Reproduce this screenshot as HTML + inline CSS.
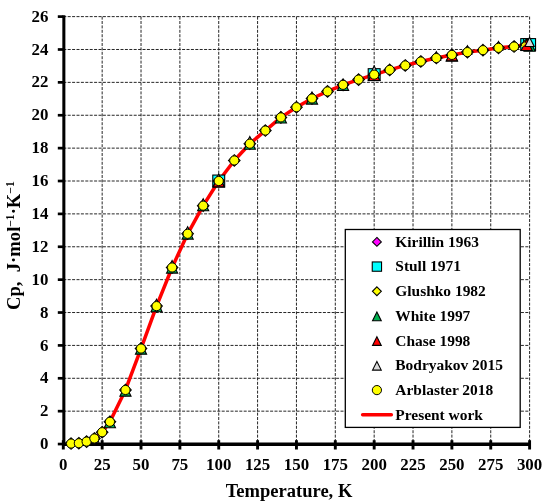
<!DOCTYPE html>
<html><head><meta charset="utf-8"><title>Cp chart</title>
<style>html,body{margin:0;padding:0;background:#fff}svg{display:block}text{font-family:"Liberation Serif","Times New Roman",serif;font-weight:bold;fill:#000}</style></head><body>
<svg width="550" height="504" viewBox="0 0 550 504">
<rect width="550" height="504" fill="#fff"/>
<g stroke="#262626" stroke-width="1" stroke-dasharray="3 1.4" fill="none">
<line x1="63.30" y1="411.17" x2="529.60" y2="411.17"/>
<line x1="63.30" y1="378.29" x2="529.60" y2="378.29"/>
<line x1="63.30" y1="345.41" x2="529.60" y2="345.41"/>
<line x1="63.30" y1="312.53" x2="529.60" y2="312.53"/>
<line x1="63.30" y1="279.65" x2="529.60" y2="279.65"/>
<line x1="63.30" y1="246.77" x2="529.60" y2="246.77"/>
<line x1="63.30" y1="213.89" x2="529.60" y2="213.89"/>
<line x1="63.30" y1="181.01" x2="529.60" y2="181.01"/>
<line x1="63.30" y1="148.13" x2="529.60" y2="148.13"/>
<line x1="63.30" y1="115.25" x2="529.60" y2="115.25"/>
<line x1="63.30" y1="82.37" x2="529.60" y2="82.37"/>
<line x1="63.30" y1="49.49" x2="529.60" y2="49.49"/>
<line x1="63.30" y1="16.61" x2="529.60" y2="16.61"/>
<line x1="102.16" y1="16.61" x2="102.16" y2="444.05"/>
<line x1="141.02" y1="16.61" x2="141.02" y2="444.05"/>
<line x1="179.88" y1="16.61" x2="179.88" y2="444.05"/>
<line x1="218.73" y1="16.61" x2="218.73" y2="444.05"/>
<line x1="257.59" y1="16.61" x2="257.59" y2="444.05"/>
<line x1="296.45" y1="16.61" x2="296.45" y2="444.05"/>
<line x1="335.31" y1="16.61" x2="335.31" y2="444.05"/>
<line x1="374.17" y1="16.61" x2="374.17" y2="444.05"/>
<line x1="413.03" y1="16.61" x2="413.03" y2="444.05"/>
<line x1="451.88" y1="16.61" x2="451.88" y2="444.05"/>
<line x1="490.74" y1="16.61" x2="490.74" y2="444.05"/>
<line x1="529.60" y1="16.61" x2="529.60" y2="444.05"/>
</g>
<g stroke="#000" stroke-width="2.7" fill="none">
<line x1="63.85" y1="15.31" x2="63.85" y2="445.65" stroke-width="3.05"/>
<line x1="62.30" y1="444.25" x2="531.00" y2="444.25" stroke-width="3.3"/>
<line x1="57.80" y1="444.05" x2="63.30" y2="444.05"/>
<line x1="57.80" y1="411.17" x2="63.30" y2="411.17"/>
<line x1="57.80" y1="378.29" x2="63.30" y2="378.29"/>
<line x1="57.80" y1="345.41" x2="63.30" y2="345.41"/>
<line x1="57.80" y1="312.53" x2="63.30" y2="312.53"/>
<line x1="57.80" y1="279.65" x2="63.30" y2="279.65"/>
<line x1="57.80" y1="246.77" x2="63.30" y2="246.77"/>
<line x1="57.80" y1="213.89" x2="63.30" y2="213.89"/>
<line x1="57.80" y1="181.01" x2="63.30" y2="181.01"/>
<line x1="57.80" y1="148.13" x2="63.30" y2="148.13"/>
<line x1="57.80" y1="115.25" x2="63.30" y2="115.25"/>
<line x1="57.80" y1="82.37" x2="63.30" y2="82.37"/>
<line x1="57.80" y1="49.49" x2="63.30" y2="49.49"/>
<line x1="57.80" y1="16.61" x2="63.30" y2="16.61"/>
<line x1="63.30" y1="440.2" x2="63.30" y2="449.5" stroke-width="2.9"/>
<line x1="102.16" y1="440.2" x2="102.16" y2="449.5" stroke-width="2.9"/>
<line x1="141.02" y1="440.2" x2="141.02" y2="449.5" stroke-width="2.9"/>
<line x1="179.88" y1="440.2" x2="179.88" y2="449.5" stroke-width="2.9"/>
<line x1="218.73" y1="440.2" x2="218.73" y2="449.5" stroke-width="2.9"/>
<line x1="257.59" y1="440.2" x2="257.59" y2="449.5" stroke-width="2.9"/>
<line x1="296.45" y1="440.2" x2="296.45" y2="449.5" stroke-width="2.9"/>
<line x1="335.31" y1="440.2" x2="335.31" y2="449.5" stroke-width="2.9"/>
<line x1="374.17" y1="440.2" x2="374.17" y2="449.5" stroke-width="2.9"/>
<line x1="413.03" y1="440.2" x2="413.03" y2="449.5" stroke-width="2.9"/>
<line x1="451.88" y1="440.2" x2="451.88" y2="449.5" stroke-width="2.9"/>
<line x1="490.74" y1="440.2" x2="490.74" y2="449.5" stroke-width="2.9"/>
<line x1="529.60" y1="440.2" x2="529.60" y2="449.5" stroke-width="2.9"/>
</g>
<g font-size="16.9px">
<text x="48.4" y="449.15" text-anchor="end">0</text>
<text x="48.4" y="416.27" text-anchor="end">2</text>
<text x="48.4" y="383.39" text-anchor="end">4</text>
<text x="48.4" y="350.51" text-anchor="end">6</text>
<text x="48.4" y="317.63" text-anchor="end">8</text>
<text x="48.4" y="284.75" text-anchor="end">10</text>
<text x="48.4" y="251.87" text-anchor="end">12</text>
<text x="48.4" y="218.99" text-anchor="end">14</text>
<text x="48.4" y="186.11" text-anchor="end">16</text>
<text x="48.4" y="153.23" text-anchor="end">18</text>
<text x="48.4" y="120.35" text-anchor="end">20</text>
<text x="48.4" y="87.47" text-anchor="end">22</text>
<text x="48.4" y="54.59" text-anchor="end">24</text>
<text x="48.4" y="21.71" text-anchor="end">26</text>
<text x="63.30" y="469.7" text-anchor="middle">0</text>
<text x="102.16" y="469.7" text-anchor="middle">25</text>
<text x="141.02" y="469.7" text-anchor="middle">50</text>
<text x="179.88" y="469.7" text-anchor="middle">75</text>
<text x="218.73" y="469.7" text-anchor="middle">100</text>
<text x="257.59" y="469.7" text-anchor="middle">125</text>
<text x="296.45" y="469.7" text-anchor="middle">150</text>
<text x="335.31" y="469.7" text-anchor="middle">175</text>
<text x="374.17" y="469.7" text-anchor="middle">200</text>
<text x="413.03" y="469.7" text-anchor="middle">225</text>
<text x="451.88" y="469.7" text-anchor="middle">250</text>
<text x="490.74" y="469.7" text-anchor="middle">275</text>
<text x="529.60" y="469.7" text-anchor="middle">300</text>
</g>
<text x="289" y="496.8" text-anchor="middle" font-size="18.55px">Temperature, K</text>
<text transform="translate(20.1,245.7) rotate(-90)" text-anchor="middle" font-size="18.65px" xml:space="preserve">Cp,  J·mol<tspan font-size="11.5px" dy="-6.5">−1</tspan><tspan dy="6.5">·K</tspan><tspan font-size="11.5px" dy="-6.5">−1</tspan></text>
<polyline points="71.07,443.56 78.84,443.23 86.61,441.58 94.39,438.46 102.16,432.21 109.93,421.77 125.47,389.96 141.02,348.53 156.56,306.12 172.10,267.48 187.65,233.78 203.19,205.67 218.73,181.01 234.28,160.46 249.82,143.69 265.36,130.54 280.91,117.39 296.45,107.19 311.99,98.48 327.54,91.41 343.08,84.84 358.62,79.58 374.17,74.64 389.71,69.88 405.25,65.44 420.80,61.49 436.34,58.04 451.88,54.92 467.43,52.12 482.97,50.15 498.51,47.85 514.06,46.53 526.72,44.56 529.60,44.56" fill="none" stroke="#ff0000" stroke-width="3.5" stroke-linejoin="round" stroke-linecap="round"/>
<g stroke="#000" stroke-width="1.1" stroke-linejoin="miter">
<path d="M526.72 38.79L532.50 44.56L526.72 50.33L520.95 44.56Z" fill="#ff00ff"/>
<rect x="212.78" y="175.06" width="11.90" height="11.90" fill="#00ffff"/>
<rect x="368.22" y="68.69" width="11.90" height="11.90" fill="#00ffff"/>
<rect x="520.77" y="38.61" width="11.90" height="11.90" fill="#00ffff"/>
<rect x="523.65" y="38.61" width="11.90" height="11.90" fill="#00ffff"/>
<path d="M71.07 437.78L76.84 443.56L71.07 449.33L65.30 443.56Z" fill="#ffff00"/>
<path d="M78.84 437.46L84.62 443.23L78.84 449.00L73.07 443.23Z" fill="#ffff00"/>
<path d="M86.61 435.81L92.39 441.58L86.61 447.36L80.84 441.58Z" fill="#ffff00"/>
<path d="M94.39 432.69L100.16 438.46L94.39 444.23L88.61 438.46Z" fill="#ffff00"/>
<path d="M102.16 426.44L107.93 432.21L102.16 437.99L96.39 432.21Z" fill="#ffff00"/>
<path d="M109.93 416.00L115.70 421.77L109.93 427.55L104.16 421.77Z" fill="#ffff00"/>
<path d="M125.47 384.19L131.25 389.96L125.47 395.73L119.70 389.96Z" fill="#ffff00"/>
<path d="M141.02 342.76L146.79 348.53L141.02 354.31L135.24 348.53Z" fill="#ffff00"/>
<path d="M156.56 300.35L162.33 306.12L156.56 311.89L150.79 306.12Z" fill="#ffff00"/>
<path d="M172.10 261.71L177.88 267.48L172.10 273.26L166.33 267.48Z" fill="#ffff00"/>
<path d="M187.65 228.01L193.42 233.78L187.65 239.55L181.87 233.78Z" fill="#ffff00"/>
<path d="M203.19 199.90L208.96 205.67L203.19 211.44L197.42 205.67Z" fill="#ffff00"/>
<path d="M218.73 175.24L224.51 181.01L218.73 186.78L212.96 181.01Z" fill="#ffff00"/>
<path d="M234.28 154.69L240.05 160.46L234.28 166.23L228.50 160.46Z" fill="#ffff00"/>
<path d="M249.82 137.92L255.59 143.69L249.82 149.46L244.05 143.69Z" fill="#ffff00"/>
<path d="M265.36 124.77L271.14 130.54L265.36 136.31L259.59 130.54Z" fill="#ffff00"/>
<path d="M280.91 111.61L286.68 117.39L280.91 123.16L275.13 117.39Z" fill="#ffff00"/>
<path d="M296.45 101.42L302.22 107.19L296.45 112.97L290.68 107.19Z" fill="#ffff00"/>
<path d="M311.99 92.71L317.77 98.48L311.99 104.25L306.22 98.48Z" fill="#ffff00"/>
<path d="M327.54 85.64L333.31 91.41L327.54 97.18L321.76 91.41Z" fill="#ffff00"/>
<path d="M343.08 79.06L348.85 84.84L343.08 90.61L337.31 84.84Z" fill="#ffff00"/>
<path d="M358.62 73.80L364.40 79.58L358.62 85.35L352.85 79.58Z" fill="#ffff00"/>
<path d="M374.17 68.87L379.94 74.64L374.17 80.42L368.39 74.64Z" fill="#ffff00"/>
<path d="M389.71 64.10L395.48 69.88L389.71 75.65L383.94 69.88Z" fill="#ffff00"/>
<path d="M405.25 59.66L411.03 65.44L405.25 71.21L399.48 65.44Z" fill="#ffff00"/>
<path d="M420.80 55.72L426.57 61.49L420.80 67.26L415.02 61.49Z" fill="#ffff00"/>
<path d="M436.34 52.27L442.11 58.04L436.34 63.81L430.57 58.04Z" fill="#ffff00"/>
<path d="M451.88 49.14L457.66 54.92L451.88 60.69L446.11 54.92Z" fill="#ffff00"/>
<path d="M467.43 46.35L473.20 52.12L467.43 57.89L461.65 52.12Z" fill="#ffff00"/>
<path d="M482.97 44.38L488.74 50.15L482.97 55.92L477.20 50.15Z" fill="#ffff00"/>
<path d="M498.51 42.07L504.29 47.85L498.51 53.62L492.74 47.85Z" fill="#ffff00"/>
<path d="M514.06 40.76L519.83 46.53L514.06 52.30L508.28 46.53Z" fill="#ffff00"/>
<path d="M526.72 38.79L532.50 44.56L526.72 50.33L520.95 44.56Z" fill="#ffff00"/>
<path d="M109.93 416.65L115.49 427.77L104.37 427.77Z" fill="#00b050"/>
<path d="M125.47 385.04L131.03 396.16L119.91 396.16Z" fill="#00b050"/>
<path d="M141.02 343.01L146.58 354.13L135.46 354.13Z" fill="#00b050"/>
<path d="M156.56 300.60L162.12 311.72L151.00 311.72Z" fill="#00b050"/>
<path d="M172.10 261.96L177.66 273.08L166.54 273.08Z" fill="#00b050"/>
<path d="M187.65 227.96L193.21 239.08L182.09 239.08Z" fill="#00b050"/>
<path d="M203.19 199.65L208.75 210.77L197.63 210.77Z" fill="#00b050"/>
<path d="M218.73 175.49L224.29 186.61L213.17 186.61Z" fill="#00b050"/>
<path d="M249.82 138.17L255.38 149.29L244.26 149.29Z" fill="#00b050"/>
<path d="M280.91 111.87L286.47 122.99L275.35 122.99Z" fill="#00b050"/>
<path d="M311.99 92.96L317.55 104.08L306.43 104.08Z" fill="#00b050"/>
<path d="M343.08 79.32L348.64 90.44L337.52 90.44Z" fill="#00b050"/>
<path d="M374.17 69.12L379.73 80.24L368.61 80.24Z" fill="#00b050"/>
<path d="M451.88 49.99L457.44 61.12L446.32 61.12Z" fill="#00b050"/>
<path d="M529.60 40.16L535.16 51.28L524.04 51.28Z" fill="#00b050"/>
<path d="M218.73 175.79L224.29 186.91L213.17 186.91Z" fill="#ff0000"/>
<path d="M374.17 69.42L379.73 80.54L368.61 80.54Z" fill="#ff0000"/>
<path d="M451.88 49.69L457.44 60.82L446.32 60.82Z" fill="#ff0000"/>
<path d="M526.72 39.34L532.28 50.46L521.17 50.46Z" fill="#ff0000"/>
<path d="M94.39 433.44L98.75 442.16L90.03 442.16Z" fill="#d9d9d9"/>
<path d="M156.56 299.15L160.92 307.87L152.20 307.87Z" fill="#d9d9d9"/>
<path d="M172.10 260.51L176.46 269.23L167.74 269.23Z" fill="#d9d9d9"/>
<path d="M187.65 226.81L192.01 235.53L183.29 235.53Z" fill="#d9d9d9"/>
<path d="M203.19 198.70L207.55 207.42L198.83 207.42Z" fill="#d9d9d9"/>
<path d="M218.73 174.04L223.09 182.76L214.37 182.76Z" fill="#d9d9d9"/>
<path d="M249.82 136.57L254.18 145.29L245.46 145.29Z" fill="#d9d9d9"/>
<path d="M311.99 91.96L316.35 100.68L307.63 100.68Z" fill="#d9d9d9"/>
<path d="M374.17 65.92L378.53 74.64L369.81 74.64Z" fill="#d9d9d9"/>
<path d="M436.34 51.67L440.70 60.39L431.98 60.39Z" fill="#d9d9d9"/>
<path d="M467.43 45.75L471.79 54.47L463.07 54.47Z" fill="#d9d9d9"/>
<path d="M498.51 41.48L502.87 50.20L494.15 50.20Z" fill="#d9d9d9"/>
<circle cx="71.07" cy="443.56" r="4.60" fill="#ffff00" stroke-width="1"/>
<circle cx="78.84" cy="443.23" r="4.60" fill="#ffff00" stroke-width="1"/>
<circle cx="86.61" cy="441.58" r="4.60" fill="#ffff00" stroke-width="1"/>
<circle cx="94.39" cy="438.46" r="4.60" fill="#ffff00" stroke-width="1"/>
<circle cx="102.16" cy="432.21" r="4.60" fill="#ffff00" stroke-width="1"/>
<circle cx="109.93" cy="421.77" r="4.60" fill="#ffff00" stroke-width="1"/>
<circle cx="125.47" cy="389.96" r="4.60" fill="#ffff00" stroke-width="1"/>
<circle cx="141.02" cy="348.53" r="4.60" fill="#ffff00" stroke-width="1"/>
<circle cx="156.56" cy="306.12" r="4.60" fill="#ffff00" stroke-width="1"/>
<circle cx="172.10" cy="267.48" r="4.60" fill="#ffff00" stroke-width="1"/>
<circle cx="187.65" cy="233.78" r="4.60" fill="#ffff00" stroke-width="1"/>
<circle cx="203.19" cy="205.67" r="4.60" fill="#ffff00" stroke-width="1"/>
<circle cx="218.73" cy="181.01" r="4.60" fill="#ffff00" stroke-width="1"/>
<circle cx="234.28" cy="160.46" r="4.60" fill="#ffff00" stroke-width="1"/>
<circle cx="249.82" cy="143.69" r="4.60" fill="#ffff00" stroke-width="1"/>
<circle cx="265.36" cy="130.54" r="4.60" fill="#ffff00" stroke-width="1"/>
<circle cx="280.91" cy="117.39" r="4.60" fill="#ffff00" stroke-width="1"/>
<circle cx="296.45" cy="107.19" r="4.60" fill="#ffff00" stroke-width="1"/>
<circle cx="311.99" cy="98.48" r="4.60" fill="#ffff00" stroke-width="1"/>
<circle cx="327.54" cy="91.41" r="4.60" fill="#ffff00" stroke-width="1"/>
<circle cx="343.08" cy="84.84" r="4.60" fill="#ffff00" stroke-width="1"/>
<circle cx="358.62" cy="79.58" r="4.60" fill="#ffff00" stroke-width="1"/>
<circle cx="374.17" cy="74.64" r="4.60" fill="#ffff00" stroke-width="1"/>
<circle cx="389.71" cy="69.88" r="4.60" fill="#ffff00" stroke-width="1"/>
<circle cx="405.25" cy="65.44" r="4.60" fill="#ffff00" stroke-width="1"/>
<circle cx="420.80" cy="61.49" r="4.60" fill="#ffff00" stroke-width="1"/>
<circle cx="436.34" cy="58.04" r="4.60" fill="#ffff00" stroke-width="1"/>
<circle cx="451.88" cy="54.92" r="4.60" fill="#ffff00" stroke-width="1"/>
<circle cx="467.43" cy="52.12" r="4.60" fill="#ffff00" stroke-width="1"/>
<circle cx="482.97" cy="50.15" r="4.60" fill="#ffff00" stroke-width="1"/>
<circle cx="498.51" cy="47.85" r="4.60" fill="#ffff00" stroke-width="1"/>
<circle cx="514.06" cy="46.53" r="4.60" fill="#ffff00" stroke-width="1"/>
<path d="M521.2 46.4L525.0 42.6L525.9 43.5L522.1 47.3Z" fill="#ffff00" stroke="none"/>
<path d="M529.60 37.23L534.21 46.45L524.99 46.45Z" fill="#d9d9d9"/>
</g>
<rect x="345.3" y="229.5" width="174.9" height="197.9" fill="#fff" stroke="#000" stroke-width="1.3"/>
<g stroke="#000" stroke-width="1.1">
<path d="M376.90 237.48L381.32 241.90L376.90 246.32L372.48 241.90Z" fill="#ff00ff"/>
<rect x="372.25" y="261.95" width="9.30" height="9.30" fill="#00ffff"/>
<path d="M376.90 286.88L381.32 291.30L376.90 295.72L372.48 291.30Z" fill="#ffff00"/>
<path d="M376.90 311.98L381.26 320.70L372.54 320.70Z" fill="#00b050"/>
<path d="M376.90 336.68L381.26 345.40L372.54 345.40Z" fill="#ff0000"/>
<path d="M376.90 361.38L381.26 370.10L372.54 370.10Z" fill="#d9d9d9"/>
<circle cx="376.90" cy="390.10" r="4.60" fill="#ffff00" stroke-width="1"/>
</g>
<line x1="362.6" y1="414.80" x2="391.4" y2="414.80" stroke="#ff0000" stroke-width="3.4" stroke-linecap="round"/>
<g font-size="15.45px">
<text x="395.3" y="246.70">Kirillin 1963</text>
<text x="395.3" y="271.40">Stull 1971</text>
<text x="395.3" y="296.10">Glushko 1982</text>
<text x="395.3" y="320.80">White 1997</text>
<text x="395.3" y="345.50">Chase 1998</text>
<text x="395.3" y="370.20">Bodryakov 2015</text>
<text x="395.3" y="394.90">Arblaster 2018</text>
<text x="395.3" y="419.60">Present work</text>
</g>
</svg></body></html>
